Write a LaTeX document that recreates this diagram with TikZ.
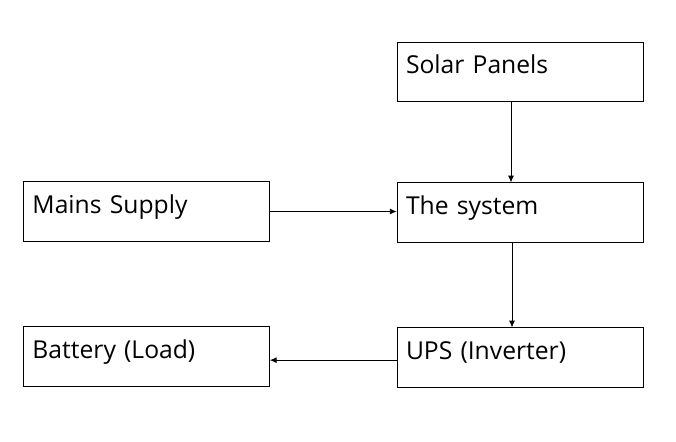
\documentclass[tikz,border=0pt]{standalone}
\usepackage{fontspec}
\setmainfont{Open Sans}
\usetikzlibrary{arrows.meta, positioning}
\tikzset{
    blockbox/.style={rectangle, draw=black, line width=0.7pt, fill=white, minimum width=184.5pt, minimum height=44.5pt, inner xsep=6.5pt, text width=171pt, align=left, text height=14pt, text depth=11pt, font=\fontsize{18.5}{22}\selectfont},
    flowarrow/.style={-{Latex[length=5pt, width=4.5pt]}, line width=0.6pt}
}
\begin{document}
\begin{tikzpicture}[x=0.75pt, y=-0.75pt]
    \useasboundingbox (0, 0) rectangle (676, 442);
    % Blocks
    \node[blockbox] (solar) at (520, 72) {Solar Panels};
    \node[blockbox] (system) at (520, 212.5) {The system};
    \node[blockbox] (mains) at (146.5, 211.5) {Mains Supply};
    \node[blockbox] (battery) at (146.5, 356.5) {Battery (Load)};
    \node[blockbox] (ups) at (520, 357.5) {UPS (Inverter)};
    % Connections
    \draw[flowarrow] ([xshift=-6.75pt]solar.south) -- ([xshift=-6.75pt]system.north);
    \draw[flowarrow] ([xshift=-6pt]system.south) -- ([xshift=-6pt]ups.north);
    \draw[flowarrow] (mains.east) -- (mains.east -| system.west);
    \draw[flowarrow] ([yshift=-2pt]ups.west) -- ([yshift=-2pt]ups.west -| battery.east);
\end{tikzpicture}
\end{document}
